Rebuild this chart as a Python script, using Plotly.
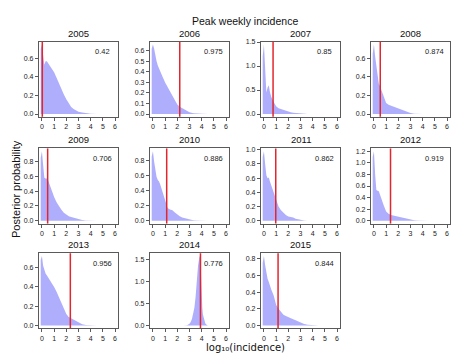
import plotly.graph_objects as go

# ---------------- data ----------------
YEARS = ["2005", "2006", "2007", "2008", "2009", "2010", "2011", "2012", "2013", "2014", "2015"]

X_GRID = [-0.1, 0.0, 0.1, 0.2, 0.3, 0.4, 0.5, 0.6, 0.8, 1.0, 1.2, 1.4, 1.6, 1.8,
          2.0, 2.2, 2.4, 2.6, 2.8, 3.0, 3.3, 3.6, 4.0, 4.5]

D2005 = [0.70, 0.75, 0.63, 0.53, 0.57, 0.57, 0.55, 0.53, 0.49, 0.45, 0.39, 0.33, 0.26, 0.21,
         0.16, 0.11, 0.075, 0.055, 0.04, 0.025, 0.015, 0.008, 0.004, 0.001]
D2006 = [0.62, 0.66, 0.62, 0.55, 0.50, 0.46, 0.43, 0.40, 0.35, 0.30, 0.26, 0.22, 0.18, 0.13,
         0.09, 0.07, 0.055, 0.04, 0.028, 0.017, 0.008, 0.004, 0.002, 0.0005]
D2007 = [1.20, 1.45, 0.95, 0.45, 0.55, 0.60, 0.45, 0.36, 0.25, 0.16, 0.12, 0.10, 0.08, 0.06,
         0.045, 0.035, 0.025, 0.02, 0.015, 0.01, 0.005, 0.002, 0.001, 0.0]
D2008 = [0.65, 0.75, 0.62, 0.50, 0.40, 0.33, 0.30, 0.26, 0.19, 0.12, 0.10, 0.09, 0.085, 0.075,
         0.06, 0.05, 0.04, 0.03, 0.02, 0.01, 0.004, 0.001, 0.0, 0.0]
D2009 = [0.85, 0.94, 0.75, 0.58, 0.57, 0.57, 0.55, 0.50, 0.41, 0.32, 0.25, 0.19, 0.15, 0.11,
         0.08, 0.06, 0.05, 0.04, 0.03, 0.02, 0.01, 0.005, 0.002, 0.0]
D2010 = [0.85, 0.92, 0.78, 0.65, 0.58, 0.54, 0.52, 0.48, 0.37, 0.26, 0.17, 0.15, 0.14, 0.11,
         0.08, 0.06, 0.045, 0.035, 0.025, 0.018, 0.008, 0.004, 0.001, 0.0]
D2011 = [0.90, 0.98, 0.80, 0.64, 0.60, 0.61, 0.55, 0.50, 0.40, 0.27, 0.20, 0.15, 0.11, 0.08,
         0.06, 0.055, 0.045, 0.03, 0.02, 0.01, 0.004, 0.001, 0.0, 0.0]
D2012 = [1.10, 1.20, 0.80, 0.53, 0.52, 0.51, 0.45, 0.38, 0.27, 0.16, 0.12, 0.10, 0.09, 0.08,
         0.075, 0.07, 0.06, 0.05, 0.035, 0.02, 0.01, 0.004, 0.001, 0.0]
D2013 = [0.68, 0.72, 0.62, 0.57, 0.54, 0.52, 0.50, 0.48, 0.45, 0.40, 0.35, 0.29, 0.23, 0.17,
         0.12, 0.09, 0.075, 0.06, 0.045, 0.03, 0.015, 0.006, 0.001, 0.0]
D2015 = [0.75, 0.83, 0.72, 0.62, 0.56, 0.52, 0.47, 0.43, 0.36, 0.25, 0.20, 0.16, 0.13, 0.115,
         0.10, 0.09, 0.075, 0.065, 0.05, 0.035, 0.02, 0.01, 0.005, 0.001]

X2014 = [2.5, 2.8, 3.0, 3.1, 3.2, 3.3, 3.4, 3.5, 3.6, 3.7, 3.8, 3.85, 3.9, 3.95, 4.0,
         4.05, 4.1, 4.2, 4.3, 4.4, 4.5]
D2014 = [0.0, 0.01, 0.04, 0.08, 0.15, 0.25, 0.40, 0.65, 1.05, 1.35, 1.53, 1.57, 1.50, 1.00,
         0.60, 0.40, 0.25, 0.12, 0.05, 0.02, 0.0]

OBSERVED = [0.03, 2.2, 0.75, 0.52, 0.47, 1.13, 0.97, 1.36, 2.33, 3.9, 1.16]
PROB_LABELS = ["0.42", "0.975", "0.85", "0.874", "0.706", "0.886", "0.862", "0.919",
               "0.956", "0.776", "0.844"]
Y_DTICK = [0.2, 0.1, 0.5, 0.2, 0.2, 0.2, 0.2, 0.2, 0.2, 0.5, 0.2]
X_TICKS = [0, 1, 2, 3, 4, 5, 6]

SERIES_X = [X_GRID] * 9 + [X2014, X_GRID]
SERIES_Y = [D2005, D2006, D2007, D2008, D2009, D2010, D2011, D2012, D2013, D2014, D2015]

# ---------------- layout ----------------
W, H = 474, 355
COL_LEFT = [31, 142, 253, 363]
ROW_TOP = [31, 139, 245]
BOX_W, BOX_H = 79, 76

FONT = "Liberation Sans, Arial, Helvetica, sans-serif"
FILL = "rgba(125,125,250,0.62)"
RED = "#E3262E"
FRAME = "#5a5a5a"

fig = go.Figure()
layout = {}
annotations = []
shapes = []

for i, yr in enumerate(YEARS):
    r, c = divmod(i, 4)
    k = i + 1
    xa = "x" if k == 1 else f"x{k}"
    ya = "y" if k == 1 else f"y{k}"
    xs, ys = SERIES_X[i], SERIES_Y[i]
    fig.add_trace(go.Scatter(x=xs, y=ys, xaxis=xa, yaxis=ya, mode="lines",
                             line=dict(width=0, color=FILL), fill="tozeroy",
                             fillcolor=FILL, hoverinfo="skip", showlegend=False))
    ymax = max(ys)
    x0 = COL_LEFT[c] / W
    x1 = (COL_LEFT[c] + BOX_W) / W
    y1 = 1 - ROW_TOP[r] / H
    y0 = 1 - (ROW_TOP[r] + BOX_H) / H
    common = dict(showline=True, mirror=True, linecolor=FRAME, linewidth=1.2,
                  ticks="outside", ticklen=3, tickcolor=FRAME, tickwidth=1,
                  showgrid=False, zeroline=False,
                  tickfont=dict(family=FONT, size=7, color="#222"))
    layout["xaxis" if k == 1 else f"xaxis{k}"] = dict(
        domain=[x0, x1], anchor=ya, range=[-0.24, 6.24],
        tickvals=X_TICKS, ticktext=[str(v) for v in X_TICKS], **common)
    layout["yaxis" if k == 1 else f"yaxis{k}"] = dict(
        domain=[y0, y1], anchor=xa, range=[-0.04 * ymax, 1.04 * ymax],
        dtick=Y_DTICK[i], tick0=0, tickformat=".1f", **common)
    annotations.append(dict(text=yr, x=0.5, y=1, xref=f"{xa} domain", yref=f"{ya} domain",
                            xanchor="center", yanchor="bottom", yshift=1, showarrow=False,
                            font=dict(family=FONT, size=9.5, color="#111")))
    annotations.append(dict(text=PROB_LABELS[i], x=5.0, y=0.87, xref=xa, yref=f"{ya} domain",
                            xanchor="center", yanchor="middle", showarrow=False,
                            font=dict(family=FONT, size=7.5, color="#222")))
    shapes.append(dict(type="line", xref=xa, yref=f"{ya} domain", x0=OBSERVED[i],
                       x1=OBSERVED[i], y0=0, y1=1, line=dict(color=RED, width=1.5)))

annotations.append(dict(text="Peak weekly incidence", x=237 / W, y=1 - 10 / H,
                        xref="paper", yref="paper", xanchor="center", yanchor="middle",
                        showarrow=False, font=dict(family=FONT, size=10.5, color="#111")))
annotations.append(dict(text="Posterior probability", x=8 / W, y=1 - 180 / H,
                        xref="paper", yref="paper", xanchor="center", yanchor="middle",
                        textangle=-90, showarrow=False,
                        font=dict(family=FONT, size=11, color="#111")))
annotations.append(dict(text="log\u2081\u2080(incidence)", x=237 / W, y=1 - 340 / H,
                        xref="paper", yref="paper", xanchor="center", yanchor="middle",
                        showarrow=False,
                        font=dict(family="DejaVu Sans, Liberation Sans, sans-serif",
                                  size=10, color="#111")))

fig.update_layout(width=W, height=H, margin=dict(l=0, r=0, t=0, b=0),
                  paper_bgcolor="white", plot_bgcolor="white",
                  annotations=annotations, shapes=shapes, **layout)

fig.write_html("out.html")
